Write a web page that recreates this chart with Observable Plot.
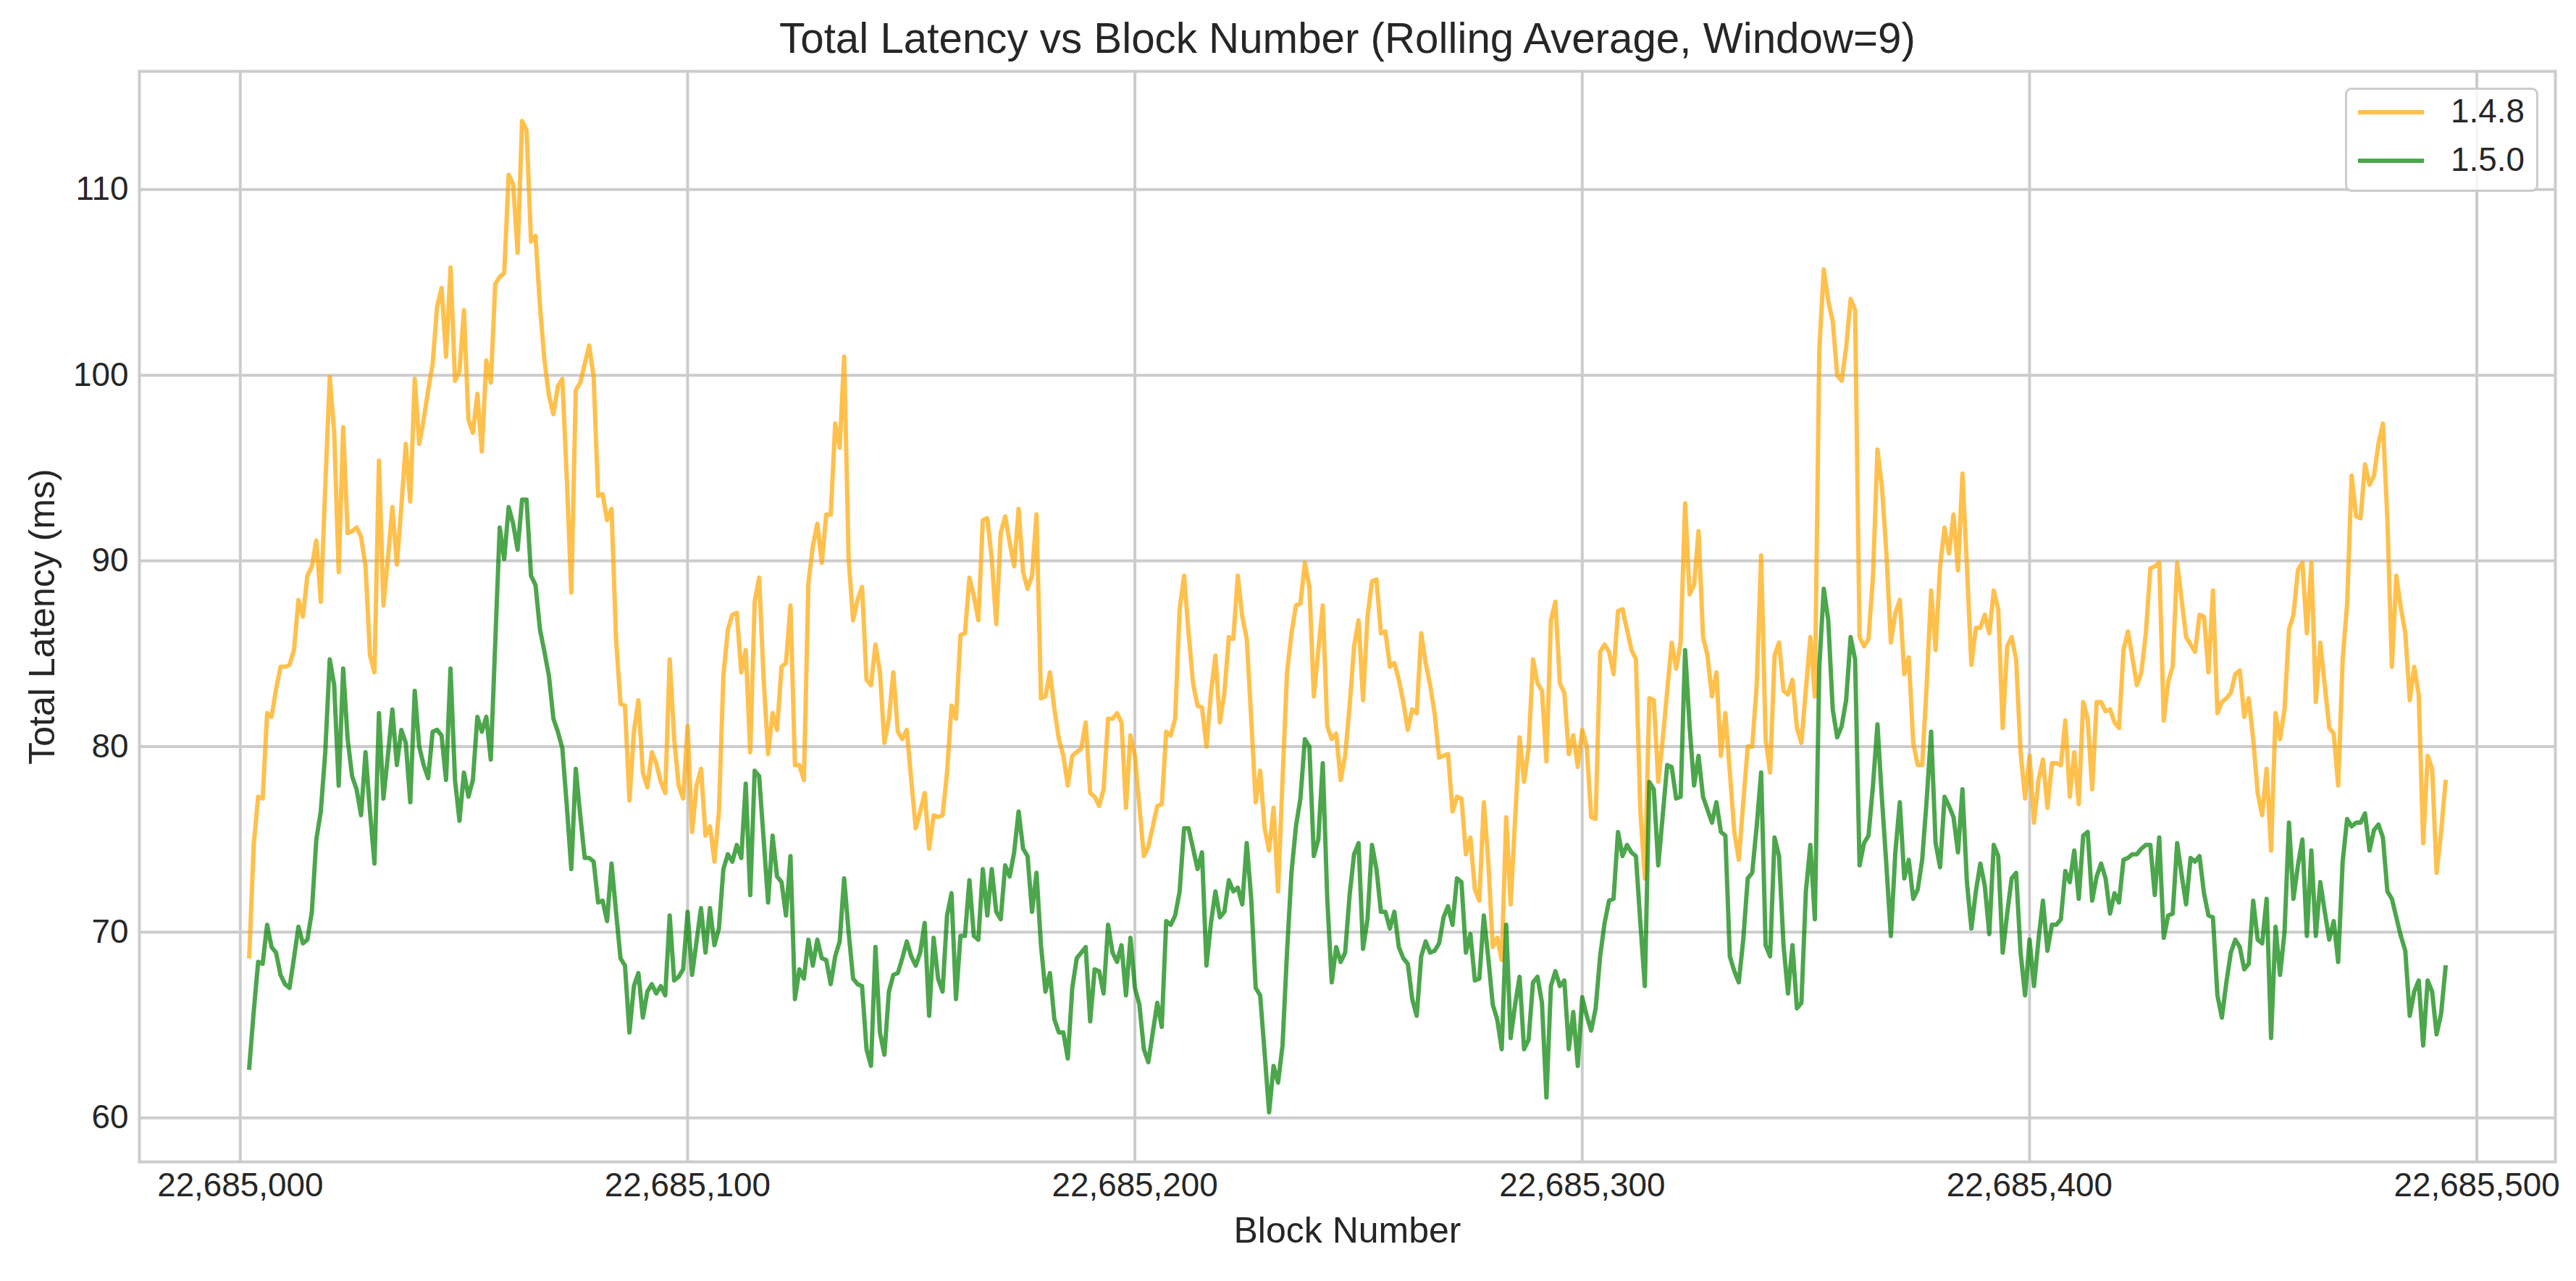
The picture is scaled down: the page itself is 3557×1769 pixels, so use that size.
<!DOCTYPE html>
<html>
<head>
<meta charset="utf-8">
<script src="https://cdn.jsdelivr.net/npm/d3@7"></script>
<script src="https://cdn.jsdelivr.net/npm/@observablehq/plot@0.6"></script>
<style>
  html, body { margin: 0; padding: 0; background: #ffffff; }
  #wrap { position: relative; width: 3557px; height: 1769px; overflow: hidden;
          font-family: "Liberation Sans", Arial, Helvetica, sans-serif; color: #262626; }
  #wrap svg { position: absolute; left: 0; top: 0; }
  #legend { position: absolute; box-sizing: border-box; border: 3px solid #cccccc;
            border-radius: 9px; background: rgba(255,255,255,0.8); }
  .lg-line { position: absolute; height: 6px; }
  .lg-text { position: absolute; font-size: 45.8px; line-height: 45.8px; white-space: nowrap; color: #262626; }
</style>
</head>
<body>
<div id="wrap"></div>
<script>
// ---------------- data ----------------
const firstBlock = 22685002;
const lastBlock = 22685493;
const seriesNames = ["1.4.8", "1.5.0"];
const seriesColors = ["#FFA500", "#008000"];
const xTicks = [22685000, 22685100, 22685200, 22685300, 22685400, 22685500];
const yTicks = [60, 70, 80, 90, 100, 110];
const titleText = "Total Latency vs Block Number (Rolling Average, Window=9)";
const xLabel = "Block Number";
const yLabel = "Total Latency (ms)";

// 1.4.8 rolling average latency (ms), one value per block from firstBlock to lastBlock
const latency148 = [
  68.7, 74.7, 77.3, 77.2, 81.8, 81.6, 83.1, 84.3, 84.3, 84.4,
  85.2, 87.9, 87.0, 89.2, 89.7, 91.1, 87.8, 94.0, 99.9, 96.9,
  89.4, 97.2, 91.5, 91.6, 91.8, 91.3, 89.7, 84.9, 84.0, 95.4,
  87.6, 90.1, 92.9, 89.8, 92.9, 96.3, 93.2, 99.8, 96.3, 97.6,
  99.2, 100.6, 103.7, 104.7, 101.0, 105.8, 99.7, 100.2, 103.5, 97.6,
  96.9, 99.0, 95.9, 100.8, 99.6, 104.9, 105.3, 105.5, 110.8, 110.3,
  106.6, 113.7, 113.2, 107.2, 107.5, 103.7, 100.8, 98.9, 97.9, 99.4,
  99.8, 94.4, 88.3, 99.2, 99.6, 100.6, 101.6, 99.9, 93.5, 93.6,
  92.2, 92.8, 85.8, 82.3, 82.2, 77.1, 80.8, 82.5, 78.6, 77.8,
  79.7, 79.1, 78.1, 77.5, 84.7, 80.4, 77.9, 77.2, 81.1, 75.4,
  77.9, 78.8, 75.2, 75.7, 73.8, 76.5, 83.8, 86.3, 87.1, 87.2,
  84.0, 85.2, 79.7, 87.8, 89.1, 83.6, 79.6, 81.8, 80.9, 84.3,
  84.5, 87.6, 79.0, 79.0, 78.2, 88.8, 90.8, 92.0, 89.9, 92.5,
  92.5, 97.4, 96.1, 101.0, 90.1, 86.8, 87.9, 88.6, 83.6, 83.3,
  85.5, 84.0, 80.2, 81.5, 84.0, 80.8, 80.4, 80.9, 78.2, 75.6,
  76.5, 77.5, 74.5, 76.3, 76.2, 76.3, 78.6, 82.2, 81.5, 86.0,
  86.1, 89.1, 88.1, 86.8, 92.2, 92.3, 90.1, 86.6, 91.5, 92.4,
  91.0, 89.7, 92.8, 89.4, 88.5, 89.2, 92.5, 82.6, 82.7, 84.0,
  82.0, 80.4, 79.5, 77.9, 79.5, 79.7, 79.9, 81.3, 77.5, 77.3,
  76.8, 77.7, 81.5, 81.5, 81.8, 81.3, 76.7, 80.6, 79.5, 76.8,
  74.1, 74.6, 75.7, 76.8, 76.9, 80.8, 80.6, 81.5, 87.4, 89.2,
  86.1, 83.4, 82.2, 82.1, 80.0, 82.9, 84.9, 81.3, 82.9, 85.9,
  85.8, 89.2, 87.0, 85.8, 81.5, 77.0, 78.7, 75.6, 74.4, 76.7,
  72.2, 78.2, 84.0, 86.1, 87.6, 87.7, 89.9, 88.6, 82.7, 85.2,
  87.6, 81.1, 80.4, 80.7, 78.2, 79.5, 82.2, 85.4, 86.8, 82.5,
  87.0, 88.9, 89.0, 86.1, 86.2, 84.3, 84.5, 83.6, 82.4, 80.9,
  82.0, 81.8, 86.1, 84.5, 83.3, 81.8, 79.4, 79.5, 79.6, 76.5,
  77.3, 77.2, 74.2, 75.1, 72.3, 71.7, 77.0, 73.8, 69.2, 69.7,
  68.5, 76.2, 71.5, 76.1, 80.5, 78.1, 79.9, 84.7, 83.4, 83.0,
  79.2, 86.8, 87.8, 83.4, 82.9, 79.6, 80.6, 78.9, 80.9, 80.0,
  76.2, 76.1, 85.1, 85.5, 85.1, 83.9, 87.3, 87.4, 86.3, 85.2,
  84.7, 76.5, 72.9, 82.6, 82.5, 78.1, 80.4, 83.0, 85.6, 84.2,
  85.6, 93.1, 88.2, 88.7, 91.6, 85.9, 84.9, 82.7, 84.0, 79.5,
  81.8, 78.6, 75.4, 73.9, 77.0, 80.0, 80.0, 83.3, 90.3, 80.4,
  78.6, 84.9, 85.6, 83.0, 82.8, 83.6, 81.0, 80.2, 83.1, 85.9,
  82.7, 101.4, 105.7, 104.0, 102.9, 100.0, 99.7, 101.5, 104.1, 103.5,
  85.9, 85.4, 85.8, 89.2, 96.0, 94.0, 90.4, 85.6, 87.2, 87.9,
  83.9, 84.8, 80.2, 79.0, 79.0, 83.3, 88.4, 85.2, 89.7, 91.8,
  90.4, 92.5, 89.5, 94.7, 89.7, 84.4, 86.4, 86.4, 87.1, 86.1,
  88.4, 87.4, 81.0, 85.4, 85.9, 84.7, 79.7, 77.2, 79.5, 75.9,
  78.2, 79.3, 76.7, 79.1, 79.1, 79.0, 81.4, 77.3, 79.7, 76.9,
  82.4, 81.5, 77.7, 82.4, 82.4, 81.9, 82.0, 81.3, 81.0, 85.2,
  86.2, 84.8, 83.3, 84.0, 86.1, 89.6, 89.7, 89.9, 81.4, 83.5,
  84.3, 89.9, 87.9, 85.9, 85.5, 85.1, 87.1, 87.0, 84.0, 88.4,
  81.8, 82.4, 82.6, 82.9, 83.9, 84.1, 81.6, 82.6, 80.4, 77.5,
  76.3, 78.8, 74.4, 81.8, 80.4, 82.0, 86.3, 87.1, 89.5, 89.9,
  86.1, 89.9, 82.4, 85.6, 83.3, 81.0, 80.7, 77.9, 84.7, 87.7,
  94.6, 92.4, 92.3, 95.2, 94.1, 94.6, 96.3, 97.4, 92.2, 84.3,
  89.2, 87.5, 86.1, 82.5, 84.3, 82.8, 74.8, 79.5, 78.8, 73.2,
  75.4, 78.1
];

// 1.5.0 rolling average latency (ms)
const latency150 = [
  62.7, 65.7, 68.4, 68.3, 70.4, 69.2, 68.9, 67.7, 67.2, 67.0,
  68.6, 70.3, 69.4, 69.6, 71.1, 75.0, 76.5, 79.7, 84.7, 83.3,
  77.9, 84.2, 80.4, 78.4, 77.7, 76.3, 79.7, 76.5, 73.7, 81.8,
  77.2, 79.5, 82.0, 79.0, 80.9, 80.2, 77.0, 83.0, 80.0, 79.0,
  78.3, 80.8, 80.9, 80.6, 78.2, 84.2, 78.2, 76.0, 78.6, 77.3,
  78.2, 81.6, 80.8, 81.6, 79.3, 85.6, 91.8, 90.1, 92.9, 92.0,
  90.6, 93.3, 93.3, 89.2, 88.7, 86.3, 85.1, 83.8, 81.5, 80.8,
  79.9, 76.8, 73.4, 78.8, 76.3, 74.0, 74.0, 73.8, 71.6, 71.7,
  70.6, 73.7, 71.1, 68.6, 68.2, 64.6, 67.1, 67.8, 65.4, 66.8,
  67.2, 66.7, 67.1, 66.6, 70.9, 67.4, 67.6, 68.0, 71.1, 67.7,
  69.5, 71.3, 68.9, 71.3, 69.3, 70.2, 73.4, 74.2, 73.8, 74.7,
  74.0, 78.0, 72.0, 78.7, 78.4, 75.0, 71.6, 75.2, 73.0, 72.7,
  70.9, 74.1, 66.4, 68.0, 67.5, 69.6, 68.2, 69.6, 68.6, 68.5,
  67.2, 68.7, 69.5, 72.9, 70.0, 67.5, 67.2, 67.1, 63.7, 62.8,
  69.2, 64.6, 63.4, 66.8, 67.7, 67.8, 68.6, 69.5, 68.7, 68.2,
  68.9, 70.5, 65.5, 69.7, 67.5, 66.8, 70.9, 72.1, 66.4, 69.8,
  69.8, 72.8, 69.8, 69.6, 73.4, 70.9, 73.4, 71.1, 70.7, 73.6,
  73.0, 74.3, 76.5, 74.5, 74.1, 71.1, 73.2, 69.3, 66.8, 67.8,
  65.3, 64.6, 64.6, 63.2, 67.0, 68.6, 68.9, 69.2, 65.2, 68.0,
  67.9, 66.7, 70.4, 68.9, 68.4, 69.3, 66.6, 69.7, 67.0, 66.1,
  63.7, 63.0, 64.6, 66.2, 64.9, 70.6, 70.4, 70.9, 72.2, 75.6,
  75.6, 74.5, 73.4, 74.3, 68.2, 70.5, 72.2, 70.8, 71.1, 72.8,
  72.2, 72.4, 71.5, 74.8, 71.8, 67.0, 66.6, 63.5, 60.3, 62.8,
  61.9, 63.9, 68.9, 73.2, 75.7, 77.2, 80.4, 80.0, 74.1, 75.0,
  79.1, 71.8, 67.3, 69.2, 68.4, 68.9, 72.0, 74.2, 74.8, 69.1,
  70.7, 74.7, 73.4, 71.1, 71.1, 70.2, 71.1, 69.2, 68.6, 68.3,
  66.4, 65.5, 68.7, 69.5, 68.9, 69.0, 69.4, 70.8, 71.4, 70.4,
  72.9, 72.7, 68.9, 69.9, 67.4, 67.5, 70.9, 68.6, 66.1, 65.3,
  63.7, 70.4, 64.3, 66.1, 67.6, 63.7, 64.2, 67.3, 67.6, 66.2,
  61.1, 67.1, 67.9, 67.1, 67.4, 63.7, 65.7, 62.8, 66.5, 65.5,
  64.7, 65.9, 68.7, 70.5, 71.7, 71.8, 75.4, 74.1, 74.7, 74.3,
  74.1, 70.5, 67.1, 78.1, 77.7, 73.6, 76.3, 79.0, 78.9, 77.2,
  77.3, 85.2, 81.1, 77.9, 79.5, 77.3, 76.6, 75.9, 77.0, 75.4,
  75.2, 68.7, 67.9, 67.3, 69.6, 72.9, 73.2, 75.7, 78.6, 69.3,
  68.7, 75.1, 74.1, 69.3, 66.7, 69.3, 65.9, 66.2, 72.2, 74.7,
  70.7, 84.3, 88.5, 86.8, 82.0, 80.5, 81.1, 82.5, 85.9, 84.7,
  73.6, 74.8, 75.2, 77.9, 81.2, 77.2, 73.6, 69.8, 74.3, 77.0,
  72.9, 73.9, 71.8, 72.3, 73.9, 77.1, 80.8, 74.8, 73.5, 77.3,
  76.8, 76.2, 74.3, 77.7, 72.7, 70.2, 72.2, 73.7, 72.5, 69.9,
  74.7, 74.1, 68.9, 71.0, 72.9, 73.2, 68.9, 66.6, 69.6, 67.1,
  69.6, 71.7, 69.0, 70.4, 70.4, 70.7, 73.3, 72.7, 74.4, 71.8,
  75.2, 75.4, 71.7, 73.0, 73.7, 72.9, 71.0, 72.1, 71.6, 73.9,
  74.0, 74.2, 74.2, 74.5, 74.7, 74.7, 72.0, 75.1, 69.7, 70.9,
  71.0, 74.8, 73.1, 71.5, 74.0, 73.8, 74.1, 72.1, 70.9, 70.8,
  66.6, 65.4, 67.3, 68.9, 69.6, 69.2, 68.0, 68.3, 71.7, 69.6,
  69.4, 71.8, 64.3, 70.3, 67.7, 70.0, 75.9, 71.8, 73.6, 75.0,
  69.8, 74.4, 69.8, 72.7, 71.1, 69.6, 70.6, 68.4, 73.8, 76.1,
  75.7, 75.9, 75.9, 76.4, 74.4, 75.5, 75.8, 75.1, 72.2, 71.8,
  70.8, 69.8, 69.0, 65.5, 66.8, 67.4, 63.9, 67.4, 66.8, 64.5,
  65.6, 68.1
];

// ---------------- layout constants ----------------
const W = 3557, H = 1769;
const FONT = '"Liberation Sans", Arial, Helvetica, sans-serif';
const TEXT = "#262626";
const GRID = "#cccccc";

const blocks = d3.range(firstBlock, lastBlock + 1);
const rows = [];
[latency148, latency150].forEach((vals, s) => {
  blocks.forEach((b, i) => {
    if (vals[i] != null) rows.push({ block: b, latency: vals[i], version: seriesNames[s] });
  });
});

// matplotlib-style 5% margins around the data extent
const xExt = d3.extent(blocks), yExt = d3.extent(rows, d => d.latency);
const xPad = (xExt[1] - xExt[0]) * 0.05, yPad = (yExt[1] - yExt[0]) * 0.05;

const chart = Plot.plot({
  width: W,
  height: H,
  marginLeft: 192,
  marginRight: 29,
  marginTop: 98,
  marginBottom: 165,
  style: `font-family: ${FONT}; font-size: 45.8px; color: ${TEXT}; background: #ffffff; overflow: visible;`,
  x: { domain: [xExt[0] - xPad, xExt[1] + xPad], label: null },
  y: { domain: [yExt[0] - yPad, yExt[1] + yPad], label: null },
  color: { domain: seriesNames, range: seriesColors },
  marks: [
    Plot.gridX(xTicks, { stroke: GRID, strokeOpacity: 1, strokeWidth: 4 }),
    Plot.gridY(yTicks, { stroke: GRID, strokeOpacity: 1, strokeWidth: 4 }),
    Plot.axisX(xTicks, { tickSize: 0, tickPadding: 15, tickFormat: d3.format(","), fontSize: 45.8, label: null, fill: TEXT }),
    Plot.axisY(yTicks, { tickSize: 0, tickPadding: 15, tickFormat: d => String(d), fontSize: 45.8, label: null, fill: TEXT }),
    Plot.line(rows, {
      x: "block", y: "latency", z: "version", stroke: "version",
      strokeWidth: 6, strokeOpacity: 0.7, strokeLinejoin: "round", strokeLinecap: "square"
    }),
    Plot.frame({ stroke: GRID, strokeWidth: 4 }),
    Plot.text([titleText], { text: d => d, frameAnchor: "top", textAnchor: "middle", lineAnchor: "middle",
      dy: -43.7, fontSize: 58.3, fill: TEXT }),
    Plot.text([xLabel], { text: d => d, frameAnchor: "bottom", textAnchor: "middle", lineAnchor: "middle",
      dy: 95.5, fontSize: 50, fill: TEXT }),
    Plot.text([yLabel], { text: d => d, frameAnchor: "left", textAnchor: "middle", lineAnchor: "middle",
      rotate: -90, dx: -134, fontSize: 50, fill: TEXT })
  ]
});

const wrap = document.getElementById("wrap");
wrap.appendChild(chart);

// ---------------- legend (HTML overlay, upper right) ----------------
const legend = document.createElement("div");
legend.id = "legend";
const LG = { left: 3238, top: 121, width: 267, height: 144 };
Object.assign(legend.style, {
  left: LG.left + "px", top: LG.top + "px", width: LG.width + "px", height: LG.height + "px"
});
const rowCenters = [155, 222];
seriesNames.forEach((name, i) => {
  const cy = rowCenters[i] - LG.top - 3; // inside border
  const ln = document.createElement("div");
  ln.className = "lg-line";
  Object.assign(ln.style, {
    left: (3256 - LG.left - 3) + "px", width: (3347 - 3256) + "px",
    top: (cy - 3) + "px", background: seriesColors[i], opacity: 0.7
  });
  const tx = document.createElement("div");
  tx.className = "lg-text";
  tx.textContent = name;
  Object.assign(tx.style, { left: (3384 - LG.left - 3) + "px", top: (cy - 24) + "px" });
  legend.appendChild(ln);
  legend.appendChild(tx);
});
wrap.appendChild(legend);
</script>
</body>
</html>
